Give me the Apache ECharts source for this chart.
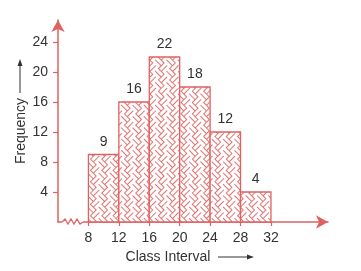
<!DOCTYPE html>
<html><head><meta charset="utf-8">
<script src="https://cdn.jsdelivr.net/npm/echarts@6/dist/echarts.min.js"></script>
<style>html,body{margin:0;padding:0;background:#fff}#c{width:361px;height:271px}</style>
</head><body><div id="c"></div>
<script>
// ---- data ----
const classStarts = [8, 12, 16, 20, 24, 28];
const classEnds = [12, 16, 20, 24, 28, 32];
const frequencies = [9, 16, 22, 18, 12, 4];
const xTickValues = [8, 12, 16, 20, 24, 28, 32];
const yTickValues = [4, 8, 12, 16, 20, 24];
const xTitle = 'Class Interval';
const yTitle = 'Frequency';

const RED = '#df6262';
const TXT = '#333333';
const FONT = 'Liberation Sans, Arial, sans-serif';

// basket-weave tile
function makeTile() {
  const c = document.createElement('canvas');
  const h = 8, n = 2 * h;
  c.width = n; c.height = n;
  const g = c.getContext('2d');
  g.fillStyle = '#ffffff'; g.fillRect(0, 0, n, n);
  g.strokeStyle = '#e27272'; g.lineWidth = 1;
  g.beginPath();
  [[0, 0], [h, h]].forEach(([ox, oy]) => {
    for (let k = 0; k < 2; k++) {
      g.moveTo(ox, oy + 0.5 + k * 4); g.lineTo(ox + h, oy + 0.5 + k * 4);
    }
  });
  [[h, 0], [0, h]].forEach(([ox, oy]) => {
    for (let k = 0; k < 2; k++) {
      g.moveTo(ox + 0.5 + k * 4, oy); g.lineTo(ox + 0.5 + k * 4, oy + h);
    }
  });
  g.stroke();
  return c;
}
const pattern = { image: makeTile(), repeat: 'repeat', rotation: Math.PI / 4 };

const data = classStarts.map((s, i) => [s, classEnds[i], frequencies[i]]);

const chart = echarts.init(document.getElementById('c'), null, { renderer: 'canvas' });
chart.setOption({
  animation: false,
  grid: { left: 58, right: 33, top: 20, bottom: 49, containLabel: false },
  xAxis: {
    type: 'value', min: 4, max: 39.5,
    name: xTitle, nameLocation: 'middle', nameGap: 28, nameMoveOverlap: false,
    nameTextStyle: { color: TXT, fontSize: 14, fontFamily: FONT, padding: [0, 50, 0, 0] },
    axisLine: { show: true, onZero: false, symbol: ['none', 'arrow'], symbolSize: [10, 12], lineStyle: { color: RED, width: 1.5 } },
    axisTick: { show: true, customValues: xTickValues, length: 4, lineStyle: { color: RED, width: 1.2 } },
    axisLabel: { customValues: xTickValues, color: TXT, fontSize: 14, fontFamily: FONT, margin: 9 },
    splitLine: { show: false }
  },
  yAxis: {
    type: 'value', min: 0, max: 26.93,
    name: yTitle, nameLocation: 'middle', nameGap: 30, nameRotate: 90, nameMoveOverlap: false,
    nameTextStyle: { color: TXT, fontSize: 14, fontFamily: FONT, padding: [0, 20, 0, 0] },
    axisLine: { show: true, symbol: ['none', 'arrow'], symbolSize: [10, 12], lineStyle: { color: RED, width: 1.5 } },
    axisTick: { show: true, customValues: yTickValues, length: 5, lineStyle: { color: RED, width: 1.2 } },
    axisLabel: { customValues: yTickValues, color: TXT, fontSize: 14, fontFamily: FONT, margin: 10 },
    splitLine: { show: false }
  },
  series: [{
    type: 'custom',
    data: data,
    encode: { x: [0, 1], y: 2 },
    z: 1,
    renderItem: function (params, api) {
      const tl = api.coord([api.value(0), api.value(2)]);
      const br = api.coord([api.value(1), 0]);
      return {
        type: 'rect',
        shape: { x: tl[0], y: tl[1], width: br[0] - tl[0], height: br[1] - tl[1] },
        style: { fill: pattern, stroke: RED, lineWidth: 1.3 },
        textContent: { style: { text: String(api.value(2)), fill: TXT, font: '14px ' + FONT } },
        textConfig: { position: 'top', distance: 5 }
      };
    }
  }]
});

// decorations: axis break zigzag and title arrows
const p0 = chart.convertToPixel({ gridIndex: 0 }, [4, 0]);
const by = p0[1];
const bx = p0[0];
const zig = [[bx + 4, by], [bx + 7, by - 3], [bx + 10, by + 2], [bx + 13, by - 3], [bx + 16, by + 2], [bx + 19, by - 3], [bx + 22, by + 2], [bx + 25, by]];
chart.setOption({
  graphic: [
    { type: 'rect', shape: { x: bx + 4, y: by - 2, width: 21, height: 4 }, style: { fill: '#fff' }, z: 100 },
    { type: 'polyline', shape: { points: zig }, style: { stroke: RED, lineWidth: 1.3, fill: null }, z: 101 },
    { type: 'line', shape: { x1: 20, y1: 93, x2: 20, y2: 62 }, style: { stroke: TXT, lineWidth: 1 }, z: 100 },
    { type: 'polygon', shape: { points: [[20, 59], [17.5, 66], [22.5, 66]] }, style: { fill: TXT }, z: 100 },
    { type: 'line', shape: { x1: 218, y1: 257, x2: 250, y2: 257 }, style: { stroke: TXT, lineWidth: 1 }, z: 100 },
    { type: 'polygon', shape: { points: [[254, 257], [247, 254.5], [247, 259.5]] }, style: { fill: TXT }, z: 100 }
  ]
});
</script>
</body></html>
